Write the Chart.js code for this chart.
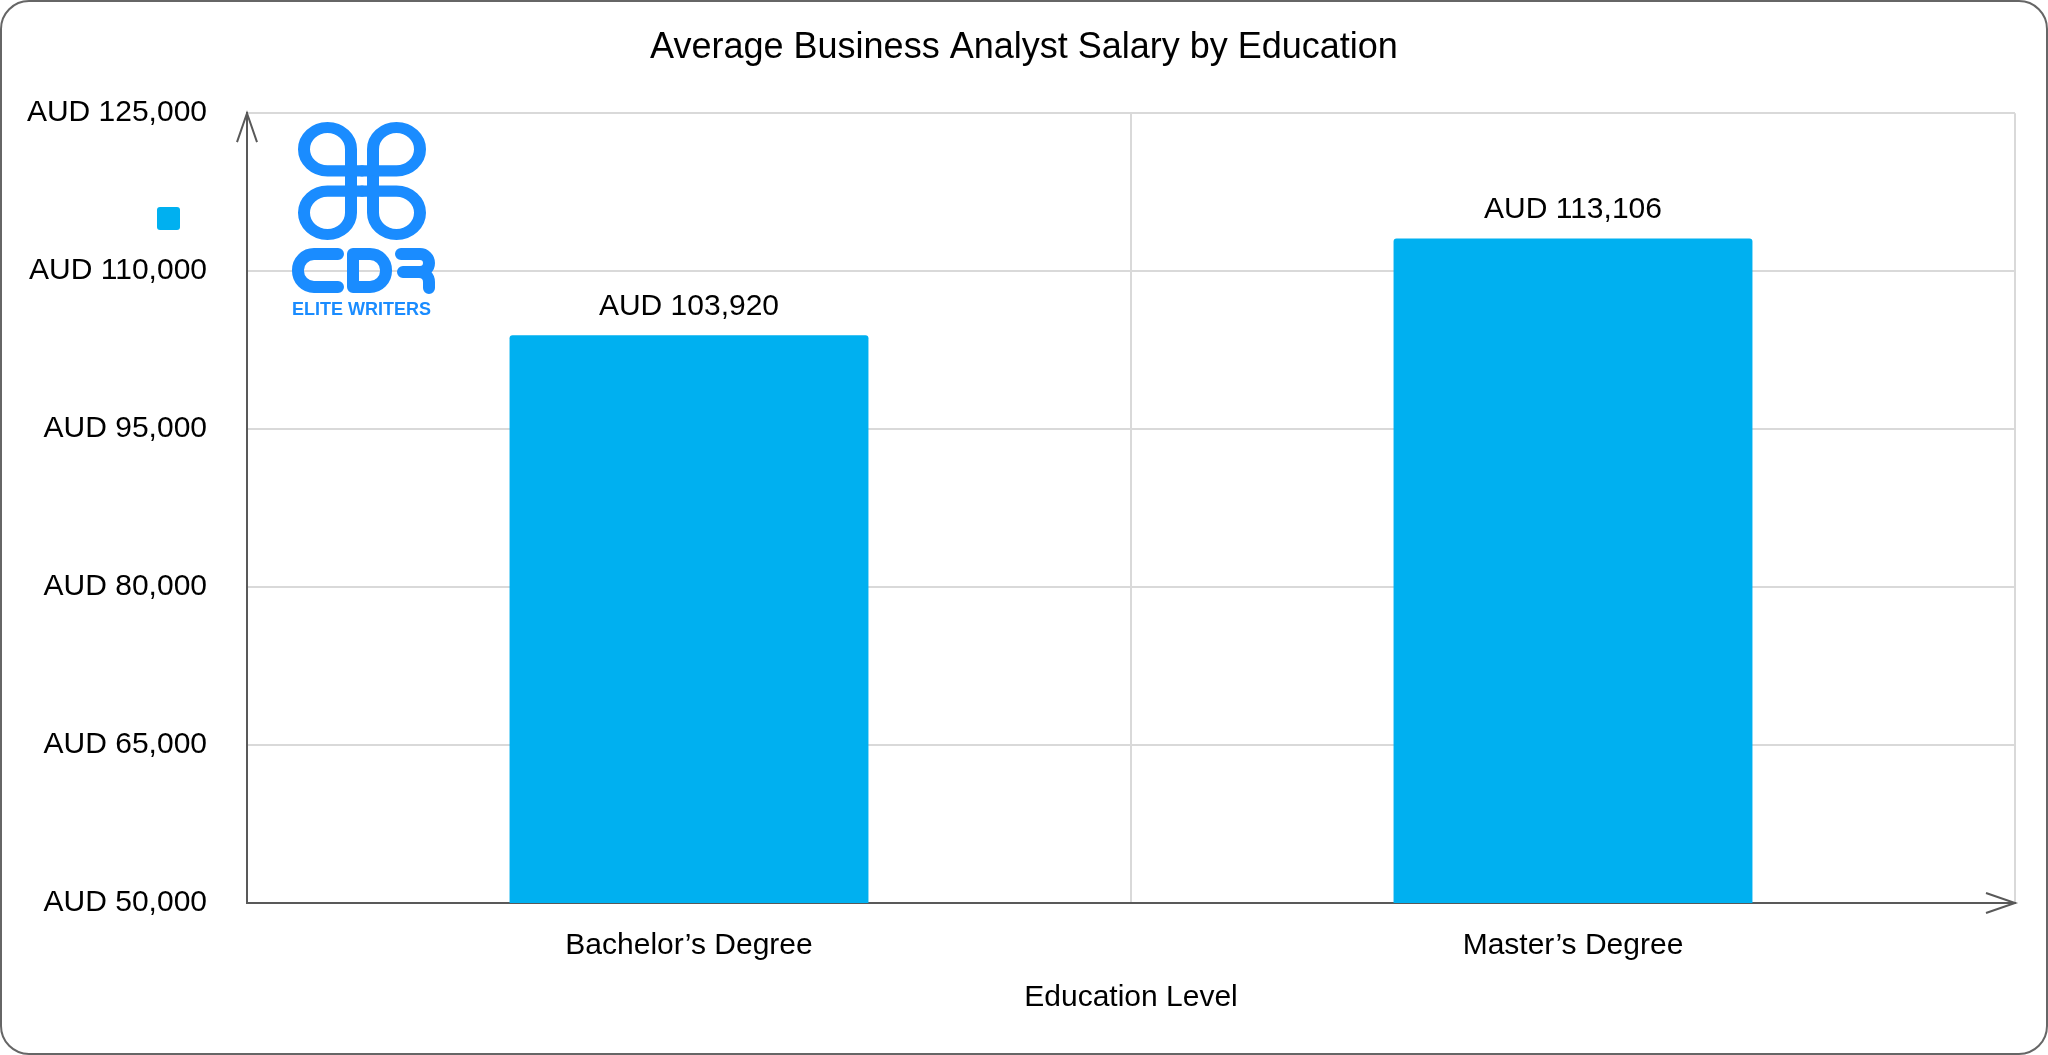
<!DOCTYPE html>
<html>
<head>
<meta charset="utf-8">
<title>Average Business Analyst Salary by Education</title>
<script src="https://cdn.jsdelivr.net/npm/chart.js@4.4.1/dist/chart.umd.min.js"></script>
<style>
  html, body { margin: 0; padding: 0; background: #fff; }
  canvas { display: block; }
</style>
</head>
<body>
<canvas id="myChart" width="2048" height="1055"></canvas>
<script>
const categories = ['Bachelor’s Degree', 'Master’s Degree'];
const salaries = [103920, 113106];
const yTicks = [50000, 65000, 80000, 95000, 110000, 125000];

const FONT = "'Liberation Sans', Arial, sans-serif";
const BAR_COLOR = '#00B0F0';
const AXIS_COLOR = '#595959';
const LOGO_BLUE = '#1a8cff';

const fmt = v => 'AUD ' + Number(v).toLocaleString('en-US');

// frame, arrows, legend swatch, logo and value labels
const decorations = {
    id: 'decorations',
    beforeDraw(chart) {
        const ctx = chart.ctx;
        ctx.save();
        ctx.fillStyle = '#fff';
        ctx.fillRect(0, 0, chart.width, chart.height);
        ctx.restore();
    },
    afterDraw(chart) {
        const ctx = chart.ctx;
        const area = chart.chartArea;
        ctx.save();

        // axis arrow heads
        ctx.strokeStyle = AXIS_COLOR;
        ctx.lineWidth = 2;
        ctx.beginPath();
        ctx.moveTo(area.left - 10, area.top + 29);
        ctx.lineTo(area.left, area.top);
        ctx.lineTo(area.left + 10, area.top + 29);
        ctx.moveTo(area.right - 29, area.bottom - 10);
        ctx.lineTo(area.right, area.bottom);
        ctx.lineTo(area.right - 29, area.bottom + 10);
        ctx.stroke();

        // lone legend swatch
        ctx.fillStyle = chart.data.datasets[0].backgroundColor;
        ctx.beginPath();
        ctx.roundRect(157, 207, 23, 23, 3);
        ctx.fill();

        // logo: command symbol, one loop per quadrant
        ctx.strokeStyle = LOGO_BLUE;
        ctx.lineCap = 'round';
        ctx.lineJoin = 'round';
        ctx.save();
        ctx.translate(362, 181);
        ctx.scale(1, 118 / 128);
        ctx.lineWidth = 12;
        const s = 11, r = 23.5;
        for (const [sx, sy] of [[-1, -1], [1, -1], [1, 1], [-1, 1]]) {
            ctx.save();
            ctx.scale(sx, sy);
            ctx.beginPath();
            ctx.moveTo(s, 0);
            ctx.lineTo(s, s + r);
            ctx.arc(s + r, s + r, r, Math.PI, -Math.PI / 2, true);
            ctx.lineTo(s, s);
            ctx.lineTo(0, s);
            ctx.stroke();
            ctx.restore();
        }
        ctx.restore();

        // logo: CDR letters
        ctx.lineWidth = 12;
        ctx.beginPath();
        ctx.moveTo(338, 254);
        ctx.lineTo(314, 254);
        ctx.arcTo(298, 254, 298, 270, 16);
        ctx.arcTo(298, 287, 314, 287, 16);
        ctx.lineTo(338, 287);
        ctx.stroke();

        ctx.beginPath();
        ctx.moveTo(353, 254);
        ctx.lineTo(370, 254);
        ctx.arcTo(386, 254, 386, 270.5, 16);
        ctx.arcTo(386, 287, 370, 287, 16);
        ctx.lineTo(353, 287);
        ctx.closePath();
        ctx.stroke();

        ctx.beginPath();
        ctx.moveTo(401, 254);
        ctx.lineTo(418, 254);
        ctx.arcTo(429, 254, 429, 263, 9);
        ctx.arcTo(429, 272, 418, 272, 9);
        ctx.lineTo(403, 272);
        ctx.moveTo(418, 272);
        ctx.arcTo(429, 272, 429, 283, 10);
        ctx.lineTo(429, 288);
        ctx.stroke();

        ctx.fillStyle = LOGO_BLUE;
        ctx.font = "bold 18px " + FONT;
        ctx.textAlign = 'left';
        ctx.textBaseline = 'alphabetic';
        ctx.fillText('ELITE WRITERS', 292, 315, 142);

        // value labels above bars
        ctx.fillStyle = '#000';
        ctx.font = '30px ' + FONT;
        ctx.textAlign = 'center';
        const meta = chart.getDatasetMeta(0);
        meta.data.forEach((bar, i) => {
            ctx.fillText(fmt(chart.data.datasets[0].data[i]), bar.x, bar.y - 20);
        });

        // outer rounded frame
        ctx.strokeStyle = '#666';
        ctx.lineWidth = 2;
        ctx.beginPath();
        ctx.roundRect(1, 1, chart.width - 2, chart.height - 2, 28);
        ctx.stroke();

        ctx.restore();
    }
};

var ctx = document.getElementById('myChart').getContext('2d');
var myChart = new Chart(ctx, {
    type: 'bar',
    data: {
        labels: categories,
        datasets: [{
            label: '',
            data: salaries,
            backgroundColor: BAR_COLOR,
            borderWidth: 0,
            borderRadius: { topLeft: 3, topRight: 3, bottomLeft: 0, bottomRight: 0 },
            borderSkipped: 'start',
            categoryPercentage: 1,
            barPercentage: 0.406
        }]
    },
    options: {
        responsive: false,
        animation: false,
        devicePixelRatio: 1,
        layout: { padding: 0 },
        scales: {
            x: {
                grid: { color: '#d9d9d9', lineWidth: 2, drawTicks: false },
                border: { display: true, color: AXIS_COLOR, width: 2 },
                ticks: { color: '#000', padding: 25, font: { family: FONT, size: 30 } },
                title: {
                    display: true,
                    text: 'Education Level',
                    color: '#000',
                    font: { family: FONT, size: 30 },
                    padding: { top: 0, bottom: 39 }
                },
                afterFit: scale => { scale.height = 152; }
            },
            y: {
                min: yTicks[0],
                max: yTicks[yTicks.length - 1],
                afterBuildTicks: scale => { scale.ticks = yTicks.map(v => ({ value: v })); },
                grid: { color: '#d9d9d9', lineWidth: 2, drawTicks: false },
                border: { display: true, color: AXIS_COLOR, width: 2 },
                ticks: {
                    color: '#000',
                    padding: 40,
                    font: { family: FONT, size: 30 },
                    callback: v => fmt(v)
                },
                afterFit: scale => { scale.width = 247; }
            },
            // empty right gutter so the plot ends at the same place as the reference
            gutter: {
                position: 'right',
                grid: { display: false },
                border: { display: false },
                ticks: { display: false },
                afterFit: scale => { scale.width = 33; }
            }
        },
        plugins: {
            legend: { display: false },
            tooltip: { enabled: false },
            title: {
                display: true,
                text: 'Average Business Analyst Salary by Education',
                color: '#000',
                font: { family: FONT, size: 36, weight: 'normal' },
                padding: { top: 26, bottom: 44 }
            }
        }
    },
    plugins: [decorations]
});
</script>
</body>
</html>
